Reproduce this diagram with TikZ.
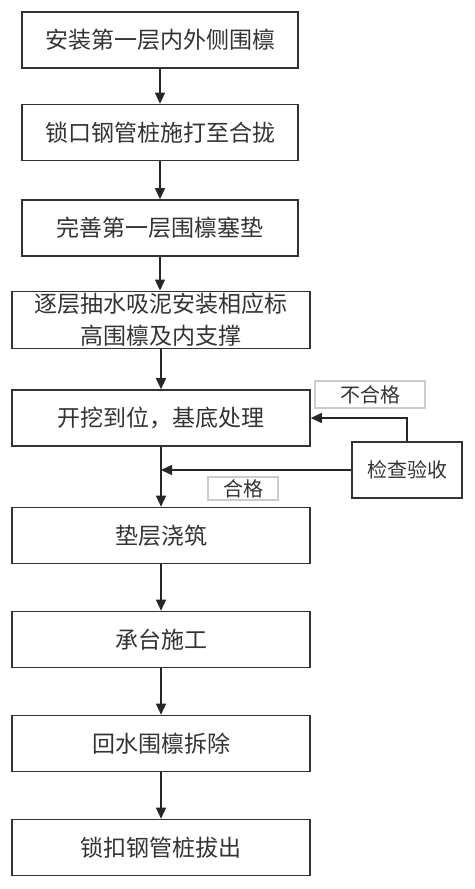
\documentclass[tikz,border=0pt]{standalone}
\usepackage{fontspec}
\newfontfamily\cjk{Noto Sans CJK SC}
\usetikzlibrary{arrows.meta}
\begin{document}
\begin{tikzpicture}[x=1pt, y=-1pt, font=\cjk\fontsize{23}{32}\selectfont,
      stepbox/.style={draw=black!80, line width=1.6pt, text=black!80,
                      minimum width=298pt, minimum height=56pt, align=center,
                      inner sep=2pt},
      tag/.style={draw=black!20, line width=1.2pt, text=black!80,
                  font=\cjk\fontsize{20}{22}\selectfont, inner sep=1pt},
      arr/.style={draw=black!85, line width=1.4pt,
                  -{Triangle[length=11pt, width=10pt]}}]
    \useasboundingbox (0,0) rectangle (474,889);
    % upper steps (narrower boxes)
    \node[stepbox, minimum width=276pt] (s1) at (160,40)    {安装第一层内外侧围檩};
    \node[stepbox, minimum width=276pt] (s2) at (160,132.5) {锁口钢管桩施打至合拢};
    \node[stepbox, minimum width=276pt] (s3) at (160,228)   {完善第一层围檩塞垫};
    % wide steps
    \node[stepbox] (s4) at (161,320)   {逐层抽水吸泥安装相应标\\高围檩及内支撑};
    \node[stepbox] (s5) at (161,418)   {开挖到位，基底处理};
    \node[stepbox] (s6) at (161,535.5) {垫层浇筑};
    \node[stepbox] (s7) at (161,639.5) {承台施工};
    \node[stepbox] (s8) at (161,743.5) {回水围檩拆除};
    \node[stepbox] (s9) at (161,847.5) {锁扣钢管桩拔出};
    % inspection
    \node[stepbox, minimum width=110pt, font=\cjk\fontsize{20}{22}\selectfont]
      (check) at (407,470) {检查验收};
    \node[tag, minimum width=110pt, minimum height=27pt] (fail) at (370,394.5) {不合格};
    \node[tag, minimum width=70pt, minimum height=23pt] (pass) at (243,488.5) {合格};
    \coordinate (join) at (s5.south |- check.west);
    \draw[arr] (s1) -- (s2);
    \draw[arr] (s2) -- (s3);
    \draw[arr] (s3.south) -- (s4.north -| s3.south);
    \draw[arr] (s4) -- (s5);
    \draw[arr] (s5) -- (s6);
    \draw[arr] (s6) -- (s7);
    \draw[arr] (s7) -- (s8);
    \draw[arr] (s8) -- (s9);
    \draw[arr] (check.north) |- (s5.east);
    \draw[arr] (check.west) -- (join);
  \end{tikzpicture}
\end{document}
